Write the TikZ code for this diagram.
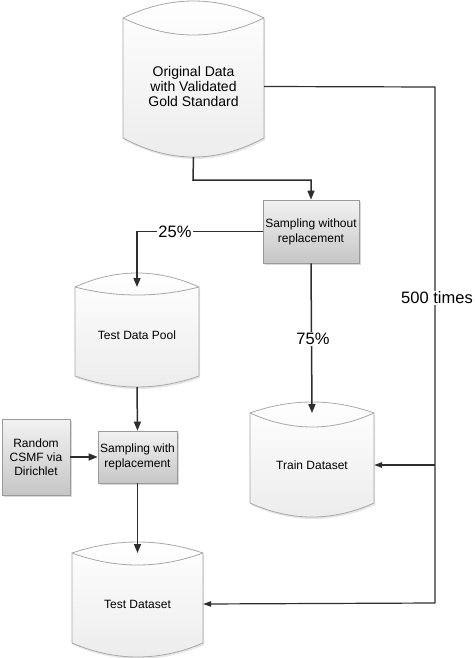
\documentclass[tikz,border=0pt]{standalone}
\usepackage{fontspec}
\setmainfont{Liberation Sans}
\usetikzlibrary{arrows.meta,calc,shadows}
\definecolor{linec}{HTML}{2E2E2E}
\definecolor{cylline}{HTML}{A8A8A8}
\definecolor{boxline}{HTML}{9A9A9A}
\definecolor{boxtop}{HTML}{F2F2F2}
\definecolor{boxbot}{HTML}{C6C6C6}
\definecolor{cylbot}{HTML}{ECECEC}
\tikzset{
  cylshape/.style={draw=cylline, line width=0.8pt, top color=white, bottom color=cylbot,
     drop shadow={shadow xshift=1pt, shadow yshift=-2pt, opacity=0.2}},
  cylarc/.style={draw=cylline, line width=0.8pt},
  cyltext/.style={inner sep=0pt, align=center, font=\fontsize{12}{15}\selectfont},
  procbox/.style={draw=boxline, line width=0.7pt, top color=boxtop, bottom color=boxbot,
     align=center, inner sep=0pt, font=\fontsize{12}{15}\selectfont,
     drop shadow={shadow xshift=1.5pt, shadow yshift=-1.5pt, opacity=0.3}},
  conn/.style={draw=linec, line width=1.5pt, -{Triangle[length=9pt,width=7pt]}},
  connthin/.style={draw=linec, line width=1.2pt, -{Triangle[length=8pt,width=5.5pt]}},
  plain/.style={draw=linec, line width=1.2pt},
  biglabel/.style={fill=white, inner sep=1pt, font=\fontsize{16.5}{18}\selectfont},
}
% name, x1, x2, y side top, y apex, y inner, y side bottom, y bottom centre, text
\newcommand{\dbcyl}[9]{%
  \pgfmathsetmacro\cxa{#2+(#3-#2)/3}%
  \pgfmathsetmacro\cxb{#3-(#3-#2)/3}%
  \pgfmathsetmacro\cya{#4+(#5-#4)/0.75}%
  \pgfmathsetmacro\cyb{#4+(#6-#4)/0.75}%
  \pgfmathsetmacro\cyc{#7+(#8-#7)/0.75}%
  \pgfmathsetmacro\cmx{(#2+#3)/2}%
  \pgfmathsetmacro\cmy{(#6+#7)/2}%
  \pgfmathsetmacro\cw{#3-#2}%
  \pgfmathsetmacro\ch{#7-#6}%
  \path[cylshape] (#2,#4) .. controls (\cxa,\cya) and (\cxb,\cya) .. (#3,#4) -- (#3,#7)
     .. controls (\cxb,\cyc) and (\cxa,\cyc) .. (#2,#7) -- cycle;
  \draw[cylarc] (#2,#4) .. controls (\cxa,\cyb) and (\cxb,\cyb) .. (#3,#4);
  \node[cyltext, minimum width=\cw pt, minimum height=\ch pt] (#1) at (\cmx,\cmy) {#9};
  \coordinate (#1-t) at (\cmx,#4);
  \coordinate (#1-b) at (\cmx,#8);
}
\begin{document}
\begin{tikzpicture}[x=1pt,y=-1pt]
\useasboundingbox (0,0) rectangle (474,658);

\dbcyl{orig}{123}{264}{18}{1}{35}{138}{157}{\fontsize{14}{16.5}\selectfont Original Data\\\fontsize{14}{16.5}\selectfont with Validated\\\fontsize{14}{16.5}\selectfont Gold Standard}
\dbcyl{pool}{75}{199}{287}{273}{295}{376}{387}{Test Data Pool}
\dbcyl{train}{250}{374}{413}{402}{427}{503}{517}{Train Dataset}
\dbcyl{test}{72}{203}{553}{542}{565}{643}{657}{Test Dataset}

\node[procbox, minimum width=96pt, minimum height=63pt] (sw) at (311,231.5) {Sampling without\\replacement};
\node[procbox, minimum width=79pt, minimum height=52pt] (sr) at (137.5,457) {Sampling with\\replacement};
\node[procbox, minimum width=68pt, minimum height=76pt, font=\fontsize{12}{14}\selectfont] (rnd) at (36,457) {Random\\CSMF via\\Dirichlet};

\coordinate (c1) at (193,180);
\coordinate (c2) at (137,231.5);
\coordinate (c3) at (435,87);
\coordinate (c4) at (435,465);
\coordinate (c5) at (435,603);

\draw[conn] (orig-b) -- (c1) -| (sw.north);
\draw[conn] (sw.west) -- (c2) -- (pool-t);
\draw[conn] (sw.south) -- (train-t);
\draw[conn] (pool-b) -- (sr.north);
\draw[conn] (rnd.east) -- (sr.west);
\draw[conn] (sr.south) -- (test-t);
\draw[plain] (orig.east) -- (c3) -- (c5);
\draw[connthin] (c4) -- (train.east);
\draw[connthin] (c5) -- (test.east);

\node[biglabel] (l25) at (175,232) {25\%};
\node[biglabel] (l75) at (313,339) {75\%};
\node[biglabel] (l500) at (437,298) {500 times};
\end{tikzpicture}
\end{document}
